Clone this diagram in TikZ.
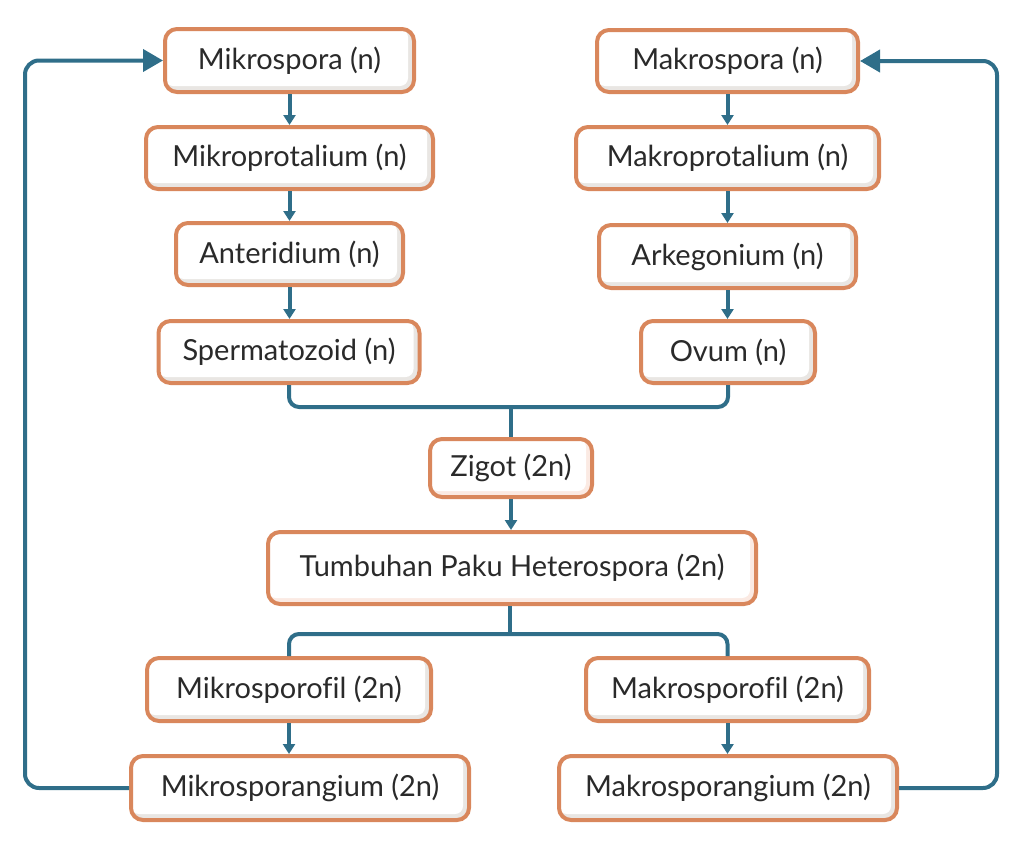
\documentclass[tikz,border=0pt]{standalone}
\usepackage{fontspec}
\setmainfont[Ligatures=NoCommon]{Lato}
\usetikzlibrary{arrows.meta}
\definecolor{boxor}{HTML}{D9875C}
\definecolor{linebl}{HTML}{2F6E89}
\definecolor{shgray}{HTML}{E9E6E3}
\definecolor{shpink}{HTML}{FBEAE3}
\definecolor{txt}{HTML}{2A2A2A}
\begin{document}
\begin{tikzpicture}[x=1pt,y=-1pt,
  shcol/.store in=\shcol, shcol=shgray,
  box/.style={draw=boxor, line width=4pt, rounded corners=12pt, fill=white,
    font=\fontsize{29}{33}\selectfont, text=txt, inner sep=0pt,
    path picture={
      \fill[\shcol] (path picture bounding box.south west) rectangle (path picture bounding box.north east);
      \fill[white, rounded corners=8pt] ([yshift=6pt]path picture bounding box.south west) rectangle ([xshift=-6pt]path picture bounding box.north east);
    }},
  conn/.style={draw=linebl, line width=4pt, rounded corners=10pt},
  sarr/.style={conn, -{Triangle[width=12pt,length=10pt]}},
  barr/.style={conn, rounded corners=14pt, -{Triangle[width=22pt,length=20pt]}}]
\useasboundingbox (0,0) rectangle (1023,849);

\node[box, minimum width=249pt, minimum height=63pt] (m1) at (289.5,60.5) {Mikrospora (n)};
\node[box, minimum width=287pt, minimum height=62pt] (m2) at (289.5,158) {Mikroprotalium (n)};
\node[box, minimum width=227pt, minimum height=62pt] (m3) at (289.5,254) {Anteridium (n)};
\node[box, minimum width=261pt, minimum height=62pt] (m4) at (289,352) {Spermatozoid (n)};

\node[box, minimum width=261pt, minimum height=62pt] (f1) at (727.5,61) {Makrospora (n)};
\node[box, minimum width=303pt, minimum height=62pt] (f2) at (727.5,158) {Makroprotalium (n)};
\node[box, minimum width=257pt, minimum height=63pt] (f3) at (727.5,256.5) {Arkegonium (n)};
\node[box, minimum width=174pt, minimum height=62pt] (f4) at (728,352) {Ovum (n)};

\node[box, shcol=shpink, minimum width=162pt, minimum height=58pt] (z) at (511,468) {Zigot (2n)};
\node[box, shcol=shpink, minimum width=488pt, minimum height=72pt] (t) at (512,568) {Tumbuhan Paku Heterospora (2n)};

\node[box, minimum width=284pt, minimum height=63pt] (s1) at (289,689.5) {Mikrosporofil (2n)};
\node[box, minimum width=283pt, minimum height=63pt] (s2) at (727.5,689.5) {Makrosporofil (2n)};
\node[box, minimum width=338pt, minimum height=64pt] (r1) at (300,788) {Mikrosporangium (2n)};
\node[box, minimum width=338pt, minimum height=64pt] (r2) at (728,788) {Makrosporangium (2n)};

% vertical arrows
\draw[sarr] (m1.south) -- (m1.south |- m2.north);
\draw[sarr] (m2.south) -- (m2.south |- m3.north);
\draw[sarr] (m3.south) -- (m3.south |- m4.north);
\draw[sarr] (f1.south) -- (f1.south |- f2.north);
\draw[sarr] (f2.south) -- (f2.south |- f3.north);
\draw[sarr] (f3.south) -- (f3.south |- f4.north);
\draw[sarr] (z.south) -- (z.south |- t.north);
\draw[sarr] (s1.south) -- (s1.south |- r1.north);
\draw[sarr] (s2.south) -- (s2.south |- r2.north);

% upper bracket
\coordinate (j1) at (511,407);
\draw[conn] (m4.south) |- (j1) -| (f4.south);
\draw[conn] (j1) -- (z.north);

% lower bracket
\coordinate (j2) at (510,634);
\draw[conn] (t.south -| j2) -- (j2);
\draw[conn] (s1.north) |- (j2) -| (s2.north);

% loops
\coordinate (L) at (25,0);
\coordinate (R) at (997,0);
\draw[barr] (r1.west) -- (r1.west -| L) -- (L |- m1.west) -- (m1.west);
\draw[barr] (r2.east) -- (r2.east -| R) -- (R |- f1.east) -- (f1.east);
\end{tikzpicture}
\end{document}
